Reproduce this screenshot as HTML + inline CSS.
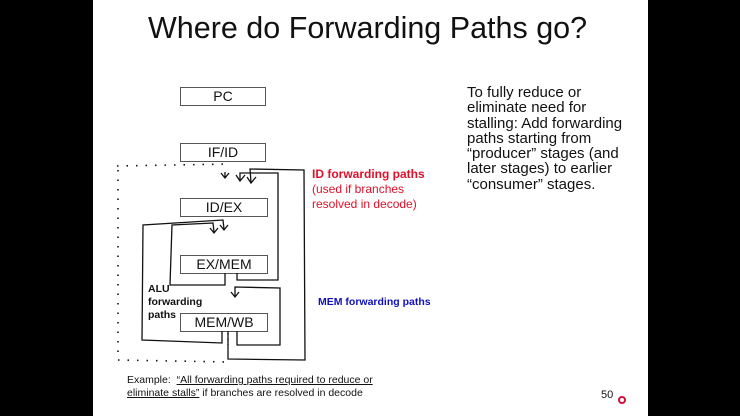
<!DOCTYPE html>
<html><head><style>
body{margin:0;width:740px;height:416px;background:#000;position:relative;overflow:hidden;font-family:"Liberation Sans",sans-serif}
#s{position:absolute;left:93px;top:0;width:555px;height:416px;background:#fff}
.t{position:absolute;white-space:nowrap}
.b{position:absolute;border:1px solid #555;height:17px;width:84px;text-align:center;font-size:14px;line-height:17px;color:#111}
</style></head><body>
<div id="s"></div>
<div class="t" style="left:148px;top:11px;font-size:30.5px;color:#111">Where do Forwarding Paths go?</div>
<div class="b" style="left:180px;top:87px">PC</div>
<div class="b" style="left:180px;top:143px">IF/ID</div>
<div class="b" style="left:180px;top:198px;width:86px">ID/EX</div>
<div class="b" style="left:180px;top:255px;width:86px">EX/MEM</div>
<div class="b" style="left:180px;top:313px;width:86px">MEM/WB</div>
<svg style="position:absolute;left:0;top:0" width="740" height="416">
<g fill="none" stroke="#111" stroke-width="1.3">
<path d="M228 331 L228 359 L305 360 L304 170 L250 169 L251 182"/>
<path d="M247 177 L251 183 L256 177"/>
<path d="M237 273 L237 280 L278 280 L278 173 L240 173 L240 180"/>
<path d="M236 175 L240 181 L245 175"/>
<path d="M225 172 L225 177 M221 173 L225 178 L229 173"/>
<path d="M222 331 L222 343 L142 340 L143 225 L223 220 L224 229"/>
<path d="M220 225 L224 230 L228 225"/>
<path d="M225 273 L225 285 L170 285 L172 225 L213 223 L214 232"/>
<path d="M210 228 L214 233 L218 228"/>
<path d="M237 331 L237 345 L280 345 L280 288 L235 287 L235 296"/>
<path d="M231 292 L235 297 L239 292"/>
<path d="M117 166 L230 164 M118 170 L118 360 L228 362" stroke-dasharray="1.5 8" stroke-width="1.6"/>
<path d="M228 333 L228 345" stroke-dasharray="1.5 4"/>
</g>
<circle cx="622" cy="400" r="3" fill="none" stroke="#d0103a" stroke-width="2"/>
</svg>
<div class="t" style="left:148px;top:283px;font-size:10.5px;font-weight:bold;line-height:13px;color:#111">ALU<br>forwarding<br>paths</div>
<div class="t" style="left:312px;top:167px;font-size:12px;line-height:15px;color:#e0102a"><b>ID forwarding paths</b><br>(used if branches<br>resolved in decode)</div>
<div class="t" style="left:318px;top:296px;font-size:10.5px;font-weight:bold;color:#1010c0">MEM forwarding paths</div>
<div class="t" style="left:467px;top:85px;font-size:15px;line-height:15.3px;color:#111">To fully reduce or<br>eliminate need for<br>stalling: Add forwarding<br>paths starting from<br>“producer” stages (and<br>later stages) to earlier<br>“consumer” stages.</div>
<div class="t" style="left:127px;top:374px;font-size:10.5px;line-height:13px;color:#111">Example:&nbsp; <u>“All forwarding paths required to reduce or</u><br><u>eliminate stalls”</u> if branches are resolved in decode</div>
<div class="t" style="left:601px;top:389px;font-size:11px;color:#111">50</div>
</body></html>
